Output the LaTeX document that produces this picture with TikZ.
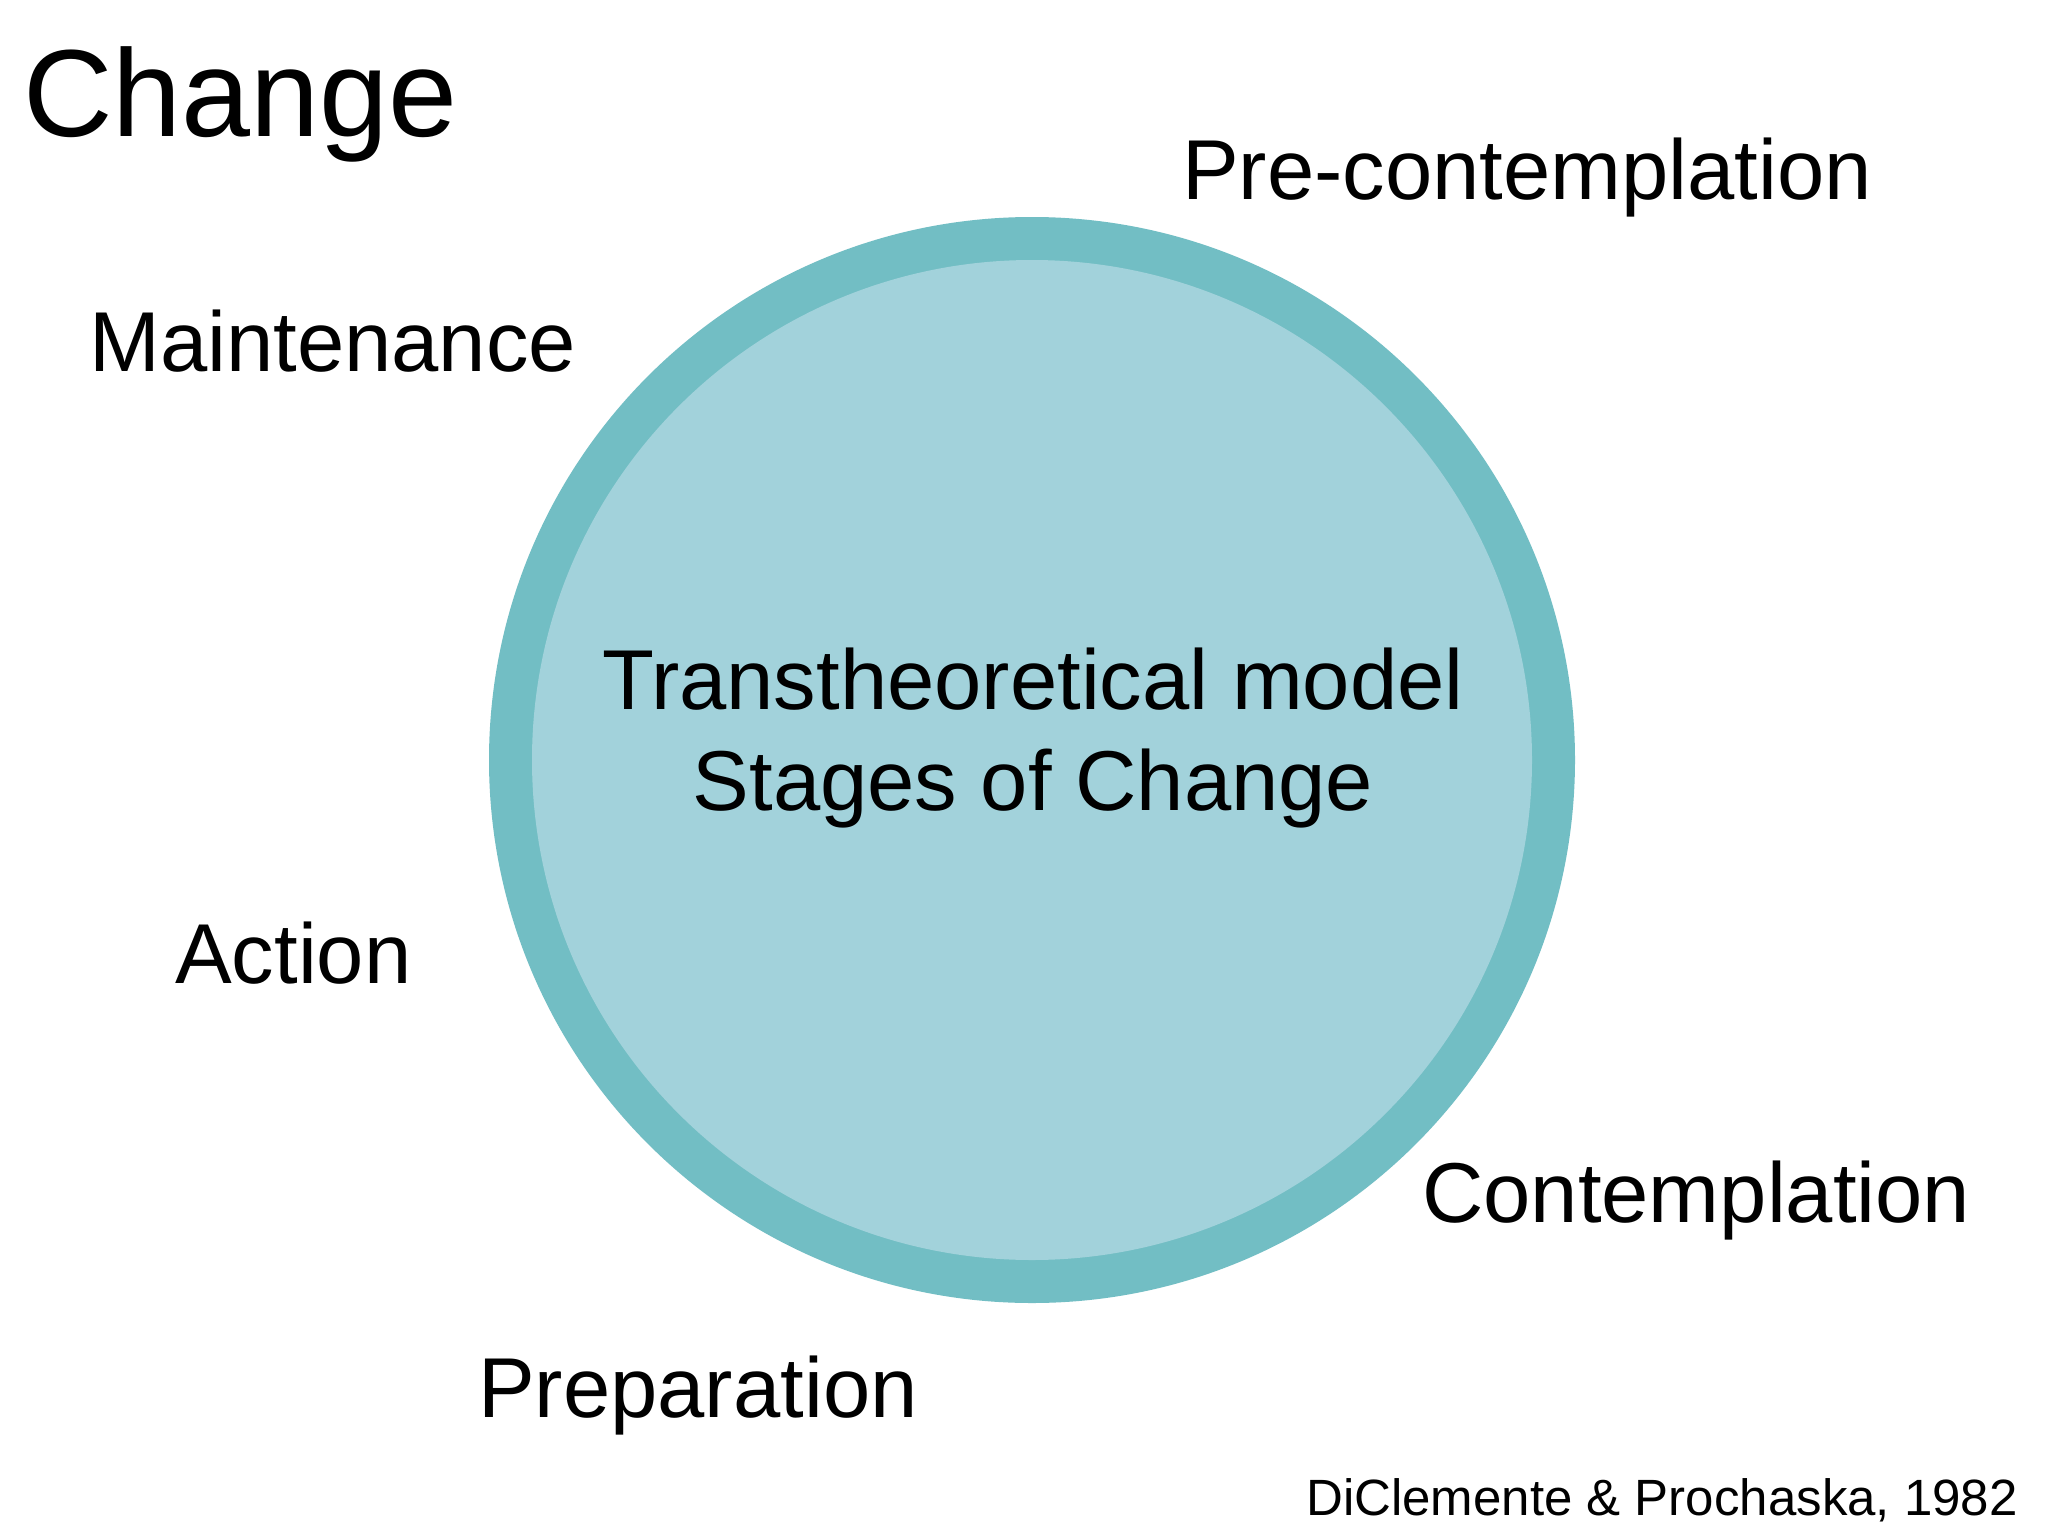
\documentclass[tikz,border=0pt]{standalone}
\usepackage{fontspec}
\setmainfont{Liberation Sans}
\definecolor{ringc}{HTML}{72BEC4}
\definecolor{innerc}{HTML}{A2D2DB}
\begin{document}
\begin{tikzpicture}[x=1pt,y=-1pt,
  lbl/.style={anchor=base west,inner sep=0pt,font=\fontsize{85}{102}\selectfont},
  ctr/.style={anchor=base,inner sep=0pt,font=\fontsize{85}{102}\selectfont}]
\useasboundingbox[fill=white] (0,0) rectangle (2048,1536);
\fill[ringc] (1032,760) circle[radius=543];
\fill[innerc] (1032,760) circle[radius=500];
\node[anchor=base west,inner sep=0pt,font=\fontsize{124}{140}\selectfont] (title) at (23,137) {Change};
\node[lbl] (pre) at (1182,199) {Pre-contemplation};
\node[lbl] (main) at (89,371) {Maintenance};
\node[lbl] (act) at (175,983) {Action};
\node[lbl] (cont) at (1422,1222) {Contemplation};
\node[lbl] (prep) at (478,1417) {Preparation};
\node[ctr] (t1) at (1033,709) {Transtheoretical model};
\node[ctr] (t2) at (1033,810) {Stages of Change};
\node[anchor=base east,inner sep=0pt,font=\fontsize{51}{60}\selectfont] (cite) at (2018,1515) {DiClemente \& Prochaska, 1982};
\end{tikzpicture}
\end{document}
